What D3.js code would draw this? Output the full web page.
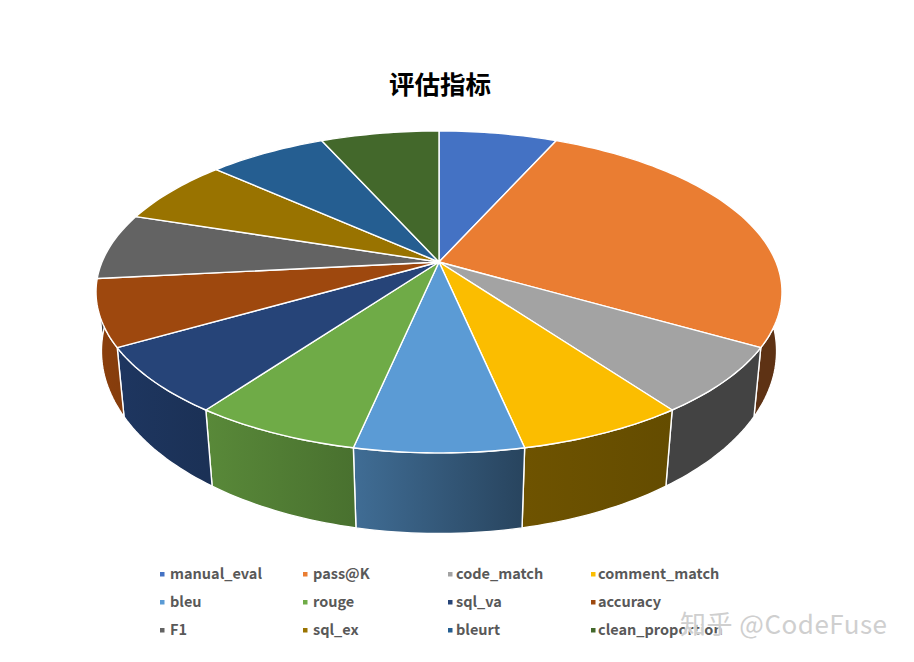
<!DOCTYPE html>
<html lang="zh">
<head>
<meta charset="UTF-8">
<title>评估指标</title>
<script src="https://d3js.org/d3.v7.min.js"></script>
<style>
body { margin: 0; background: #fff; }
svg { display: block; }
</style>
</head>
<body>
<div id="chart"></div>
<script>
const title = '评估指标';
const categories = ['manual_eval', 'pass@K', 'code_match', 'comment_match', 'bleu', 'rouge',
  'sql_va', 'accuracy', 'F1', 'sql_ex', 'bleurt', 'clean_proportion'];
const values = [1, 4, 1, 1, 1, 1, 1, 1, 1, 1, 1, 1];

const colors = ['#4472C4', '#EA7D32', '#A3A3A3', '#FBBD00', '#5B9BD5', '#6FAB47',
  '#264478', '#9E480E', '#636363', '#997300', '#255E91', '#43682B'];
// side wall shading, left and right end of each slice (share of the top colour)
const wallLeft = [.6, .4, .41, .44, .7, .8, .8, .88, .6, .6, .6, .6];
const wallRight = [.6, .4, .41, .4, .44, .66, .72, .85, .6, .6, .6, .6];

const width = 914, height = 662;

const svg = d3.select('#chart').append('svg')
  .attr('width', width)
  .attr('height', height);
const defs = svg.append('defs');

// the pie plane is tilted with perspective, so the hub is not the middle of the ellipse
const cx = 439;
const topFace = { y0: 262, a: 337, b: 155.4, k: 0.186 };
const bottomFace = { y0: 320, a: 332.6, b: 177, k: 0.171 };

function project(face, theta) {
  const u = Math.sin(theta), v = Math.cos(theta);
  const w = 1 + face.k * v;
  return [cx + face.a * u / w, face.y0 - face.b * v / w];
}

function rim(face, a0, a1) {
  const n = Math.ceil((a1 - a0) / 0.02);
  return d3.range(n + 1).map(i => project(face, a0 + (a1 - a0) * i / n));
}

const line = d3.line().curve(d3.curveLinear);
const arcs = d3.pie().sort(null).value(d => d)(values);

// walls first, the top face hides whatever is at the back
const walls = svg.append('g');
arcs.forEach((d, i) => {
  const topEdge = rim(topFace, d.startAngle, d.endAngle);
  const bottomEdge = rim(bottomFace, d.startAngle, d.endAngle).reverse();
  const c = d3.rgb(colors[i]);
  const shade = f => d3.rgb(c.r * f, c.g * f, c.b * f).formatHex();
  const xs = topEdge.map(p => p[0]);
  const grad = defs.append('linearGradient')
    .attr('id', 'wall' + i)
    .attr('gradientUnits', 'userSpaceOnUse')
    .attr('x1', d3.min(xs)).attr('x2', d3.max(xs))
    .attr('y1', 0).attr('y2', 0);
  grad.append('stop').attr('offset', 0).attr('stop-color', shade(wallLeft[i]));
  grad.append('stop').attr('offset', 1).attr('stop-color', shade(wallRight[i]));
  walls.append('path')
    .attr('d', line(topEdge.concat(bottomEdge)) + 'Z')
    .attr('fill', `url(#wall${i})`)
    .attr('stroke', '#fff')
    .attr('stroke-width', 1.4)
    .attr('stroke-linejoin', 'round');
});

const tops = svg.append('g');
arcs.forEach((d, i) => {
  const pts = [[cx, topFace.y0]].concat(rim(topFace, d.startAngle, d.endAngle));
  tops.append('path')
    .attr('d', line(pts) + 'Z')
    .attr('fill', colors[i])
    .attr('stroke', '#fff')
    .attr('stroke-width', 1.4)
    .attr('stroke-linejoin', 'round');
});

svg.append('text')
  .attr('x', 440)
  .attr('y', 94)
  .attr('text-anchor', 'middle')
  .style('font-family', '"Noto Sans CJK SC", sans-serif')
  .style('font-size', '25.5px')
  .style('font-weight', 700)
  .style('fill', '#000')
  .text(title);

// legend, 4 columns by 3 rows
const markX = [160, 303, 448, 591];
const labelX = [170, 313, 456, 598];
const rowY = [574, 602, 630];
const legend = svg.append('g');
categories.forEach((name, i) => {
  const col = i % 4, y = rowY[Math.floor(i / 4)];
  legend.append('rect')
    .attr('x', markX[col]).attr('y', y - 2)
    .attr('width', 4.5).attr('height', 4.5)
    .attr('fill', colors[i]);
  legend.append('text')
    .attr('x', labelX[col])
    .attr('y', y + 5)
    .style('font-family', '"Noto Sans CJK SC", sans-serif')
    .style('font-size', '14.5px')
    .style('font-weight', 700)
    .style('fill', '#595959')
    .text(name);
});

// watermark
svg.append('text')
  .attr('x', 680)
  .attr('y', 634)
  .style('font-family', '"Noto Sans CJK SC", sans-serif')
  .style('font-size', '26px')
  .style('letter-spacing', '0.5px')
  .style('fill', '#cfcfcf')
  .style('stroke', 'rgba(255,255,255,0.8)')
  .style('stroke-width', 1.5)
  .style('paint-order', 'stroke')
  .text('知乎 @CodeFuse');
</script>
</body>
</html>
